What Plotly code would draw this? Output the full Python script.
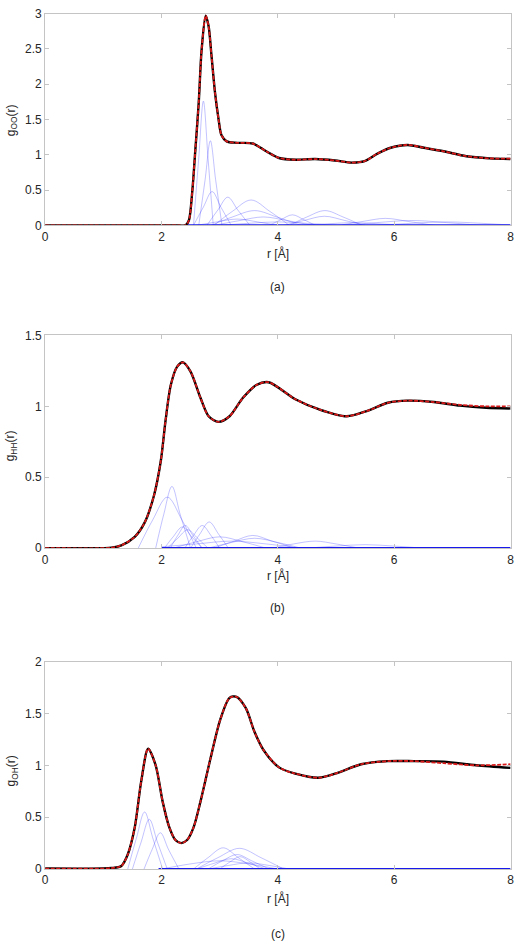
import plotly.graph_objects as go

# ---------------- data ----------------
# Panel (a): g_OO
r_oo = [0, 2.3, 2.41, 2.47, 2.53, 2.58, 2.64, 2.69, 2.76, 2.81, 2.86, 2.92, 2.98, 3.03, 3.12,
        3.3, 3.57, 3.8, 4.02, 4.3, 4.64, 4.98, 5.27, 5.49, 5.72, 5.94, 6.23, 6.51, 6.85, 7.24, 7.64, 8.0]
g_oo_exp = [0, 0, 0.0, 0.07, 0.49, 1.05, 1.74, 2.49, 2.97, 2.82, 2.40, 1.88, 1.51, 1.28, 1.19,
            1.17, 1.16, 1.05, 0.955, 0.93, 0.94, 0.92, 0.89, 0.91, 1.02, 1.10, 1.14, 1.10, 1.05, 0.98, 0.95, 0.94]
g_oo_fit = [0, 0, 0.0, 0.07, 0.49, 1.05, 1.74, 2.49, 2.97, 2.82, 2.40, 1.88, 1.51, 1.28, 1.19,
            1.17, 1.16, 1.05, 0.955, 0.93, 0.94, 0.92, 0.89, 0.91, 1.02, 1.10, 1.14, 1.10, 1.05, 0.98, 0.95, 0.945]
comp_oo_r = [
    [2.55, 2.64, 2.72, 2.80, 2.89],
    [2.64, 2.75, 2.84, 2.93, 3.04],
    [2.55, 2.72, 2.87, 3.02, 3.20],
    [2.78, 2.97, 3.14, 3.31, 3.52],
    [2.90, 3.22, 3.54, 3.86, 4.20],
    [2.85, 3.22, 3.60, 3.98, 4.40],
    [2.90, 3.35, 3.75, 4.15, 4.60],
    [2.60, 2.95, 3.30, 3.65, 4.00],
    [3.85, 4.05, 4.25, 4.45, 4.65],
    [4.20, 4.50, 4.81, 5.12, 5.45],
    [4.10, 4.45, 4.80, 5.15, 5.50],
    [5.05, 5.45, 5.85, 6.25, 6.70],
    [5.10, 5.70, 6.30, 6.90, 7.50],
    [5.70, 6.30, 6.90, 7.50, 8.00],
    [3.00, 3.50, 4.00, 4.50, 5.00],
    [4.30, 4.80, 5.30, 5.80, 6.30],
]
comp_oo_g = [
    [0, 0.95, 1.76, 0.95, 0],
    [0, 0.65, 1.20, 0.65, 0],
    [0, 0.26, 0.48, 0.26, 0],
    [0, 0.22, 0.40, 0.22, 0],
    [0, 0.20, 0.36, 0.20, 0],
    [0, 0.12, 0.21, 0.12, 0],
    [0, 0.07, 0.12, 0.07, 0],
    [0, 0.05, 0.09, 0.05, 0],
    [0, 0.08, 0.15, 0.08, 0],
    [0, 0.12, 0.21, 0.12, 0],
    [0, 0.07, 0.13, 0.07, 0],
    [0, 0.055, 0.10, 0.055, 0],
    [0, 0.04, 0.07, 0.04, 0],
    [0, 0.03, 0.05, 0.03, 0.005],
    [0, 0.03, 0.05, 0.03, 0],
    [0, 0.02, 0.04, 0.02, 0],
]
base_oo_r = [2.45, 8.0]
base_oo_g = [0, 0]

# Panel (b): g_HH
r_hh = [0, 1.0, 1.14, 1.31, 1.54, 1.71, 1.87, 1.99, 2.07, 2.16, 2.27, 2.37, 2.50, 2.67, 2.81, 2.98,
        3.17, 3.40, 3.63, 3.84, 4.30, 4.70, 5.18, 5.55, 5.89, 6.23, 6.68, 7.13, 7.58, 8.0]
g_hh_exp = [0, 0, 0.003, 0.02, 0.08, 0.18, 0.37, 0.62, 0.90, 1.15, 1.28, 1.31, 1.245, 1.06, 0.93, 0.89,
            0.93, 1.06, 1.15, 1.17, 1.05, 0.98, 0.93, 0.97, 1.025, 1.04, 1.03, 1.005, 0.99, 0.985]
g_hh_fit = [0, 0, 0.003, 0.02, 0.08, 0.18, 0.37, 0.62, 0.90, 1.15, 1.28, 1.31, 1.245, 1.06, 0.93, 0.89,
            0.93, 1.06, 1.15, 1.17, 1.05, 0.98, 0.93, 0.97, 1.025, 1.04, 1.03, 1.01, 1.0, 1.0]
comp_hh_r = [
    [1.90, 2.04, 2.18, 2.32, 2.50],
    [1.60, 1.85, 2.10, 2.35, 2.60],
    [2.15, 2.28, 2.41, 2.54, 2.70],
    [2.05, 2.20, 2.36, 2.52, 2.70],
    [2.10, 2.28, 2.45, 2.62, 2.80],
    [2.50, 2.66, 2.82, 2.98, 3.15],
    [2.40, 2.55, 2.70, 2.85, 3.00],
    [2.20, 2.60, 3.00, 3.40, 3.80],
    [2.90, 3.25, 3.57, 3.90, 4.30],
    [2.80, 3.20, 3.60, 4.00, 4.40],
    [3.90, 4.27, 4.64, 5.00, 5.40],
    [2.00, 2.60, 3.20, 3.80, 4.40],
    [4.50, 5.00, 5.50, 6.00, 6.50],
]
comp_hh_g = [
    [0, 0.24, 0.435, 0.24, 0],
    [0, 0.20, 0.36, 0.20, 0],
    [0, 0.09, 0.16, 0.09, 0],
    [0, 0.08, 0.15, 0.08, 0],
    [0, 0.07, 0.13, 0.07, 0],
    [0, 0.10, 0.185, 0.10, 0],
    [0, 0.09, 0.16, 0.09, 0],
    [0, 0.045, 0.08, 0.045, 0],
    [0, 0.05, 0.09, 0.05, 0],
    [0, 0.04, 0.07, 0.04, 0],
    [0, 0.03, 0.05, 0.03, 0],
    [0.01, 0.03, 0.05, 0.03, 0],
    [0, 0.015, 0.025, 0.015, 0],
]
base_hh_r = [2.0, 8.0]
base_hh_g = [0, 0]

# Panel (c): g_OH
r_oh = [0, 1.0, 1.14, 1.31, 1.42, 1.54, 1.65, 1.77, 1.90, 2.02, 2.13, 2.24, 2.34, 2.44, 2.55, 2.67, 2.84,
        3.01, 3.17, 3.29, 3.45, 3.60, 3.75, 4.02, 4.30, 4.70, 5.04, 5.43, 5.89, 6.34, 6.85, 7.41, 8.0]
g_oh_exp = [0.005, 0.005, 0.01, 0.03, 0.14, 0.40, 0.84, 1.16, 1.0, 0.65, 0.41, 0.28, 0.25, 0.28, 0.40, 0.65, 1.06,
            1.44, 1.65, 1.66, 1.55, 1.32, 1.15, 0.98, 0.92, 0.88, 0.93, 1.01, 1.04, 1.04, 1.035, 1.0, 0.975]
g_oh_fit = [0.005, 0.005, 0.01, 0.03, 0.14, 0.40, 0.84, 1.16, 1.0, 0.65, 0.41, 0.28, 0.25, 0.28, 0.40, 0.65, 1.06,
            1.44, 1.65, 1.66, 1.55, 1.32, 1.15, 0.98, 0.92, 0.88, 0.93, 1.01, 1.04, 1.04, 1.02, 1.0, 1.01]
comp_oh_r = [
    [1.42, 1.57, 1.71, 1.85, 2.02],
    [1.50, 1.65, 1.79, 1.93, 2.10],
    [1.70, 1.84, 1.98, 2.12, 2.30],
    [2.55, 2.80, 3.06, 3.32, 3.60],
    [2.60, 2.97, 3.34, 3.71, 4.10],
    [2.80, 3.05, 3.30, 3.55, 3.85],
    [2.60, 2.90, 3.20, 3.50, 3.80],
    [2.00, 2.50, 3.00, 3.50, 4.00],
    [2.80, 3.15, 3.50, 3.85, 4.20],
    [3.00, 3.18, 3.35, 3.52, 3.70],
]
comp_oh_g = [
    [0, 0.30, 0.55, 0.30, 0],
    [0, 0.26, 0.48, 0.26, 0],
    [0, 0.19, 0.35, 0.19, 0],
    [0, 0.11, 0.205, 0.11, 0],
    [0, 0.11, 0.20, 0.11, 0],
    [0, 0.08, 0.14, 0.08, 0],
    [0, 0.055, 0.10, 0.055, 0],
    [0, 0.05, 0.08, 0.05, 0],
    [0, 0.035, 0.06, 0.035, 0],
    [0, 0.07, 0.12, 0.07, 0],
]
base_oh_r = [1.95, 8.0]
base_oh_g = [0, 0]

x_ticks = [0, 2, 4, 6, 8]
y_ticks_oo = [0, 0.5, 1, 1.5, 2, 2.5, 3]
y_ticks_hh = [0, 0.5, 1, 1.5]
y_ticks_oh = [0, 0.5, 1, 1.5, 2]
y_labels = ["g<sub>OO</sub>(r)", "g<sub>HH</sub>(r)", "g<sub>OH</sub>(r)"]
captions = ["(a)", "(b)", "(c)"]
x_title = "r [Å]"

# ---------------- figure ----------------
W, H = 520, 949
FONT = "Liberation Sans, Arial, sans-serif"
fig = go.Figure()

panels = [
    (r_oo, g_oo_exp, g_oo_fit, comp_oo_r, comp_oo_g, base_oo_r, base_oo_g, y_ticks_oo, 3.0),
    (r_hh, g_hh_exp, g_hh_fit, comp_hh_r, comp_hh_g, base_hh_r, base_hh_g, y_ticks_hh, 1.5),
    (r_oh, g_oh_exp, g_oh_fit, comp_oh_r, comp_oh_g, base_oh_r, base_oh_g, y_ticks_oh, 2.0),
]
# pixel boxes (top, bottom) of each axes
boxes = [(6.7, 221.7), (333.3, 549.3), (664.3, 875.0)]
xl, xr = 42.7, 514.5
xt_pos = [250, 577, 905]
cap_pos = [284, 610, 941]
ylab_pos = [115, 445, 775]

for i, (r, ge, gf, cr, cg, br, bg, yt, ymax) in enumerate(panels):
    xa = "x" if i == 0 else f"x{i+1}"
    ya = "y" if i == 0 else f"y{i+1}"
    for rr, gg in zip(cr, cg):
        fig.add_trace(go.Scatter(x=rr, y=gg, mode="lines", xaxis=xa, yaxis=ya,
                                 line=dict(color="rgba(40,40,255,0.28)", width=1, shape="spline", smoothing=1.0),
                                 hoverinfo="skip", showlegend=False))
    fig.add_trace(go.Scatter(x=br, y=bg, mode="lines", xaxis=xa, yaxis=ya,
                             line=dict(color="rgb(25,25,235)", width=2.2),
                             hoverinfo="skip", showlegend=False))
    fig.add_trace(go.Scatter(x=r, y=ge, mode="lines", xaxis=xa, yaxis=ya,
                             line=dict(color="black", width=2.4, shape="spline", smoothing=0.8),
                             showlegend=False))
    fig.add_trace(go.Scatter(x=r, y=gf, mode="lines", xaxis=xa, yaxis=ya,
                             line=dict(color="rgb(215,25,25)", width=1.8, dash="4px,1.5px",
                                       shape="spline", smoothing=0.8),
                             showlegend=False))

    top, bot = boxes[i]
    axis_common = dict(showline=True, linecolor="#c4c4c4", linewidth=1, mirror="ticks",
                       ticks="inside", ticklen=4, tickcolor="#c4c4c4", showgrid=False, zeroline=False,
                       tickfont=dict(family=FONT, size=12, color="#262626"))
    fig.update_layout(**{
        ("xaxis" if i == 0 else f"xaxis{i+1}"): dict(
            domain=[xl / W, xr / W], range=[0, 8], anchor=ya, tickvals=x_ticks,
            ticktext=[str(v) for v in x_ticks], **axis_common),
        ("yaxis" if i == 0 else f"yaxis{i+1}"): dict(
            domain=[1 - bot / H, 1 - top / H], range=[0, ymax], anchor=xa, tickvals=yt,
            ticktext=[f"{v:g}" for v in yt], **axis_common),
    })
    fig.add_annotation(text=y_labels[i], xref="paper", yref="paper", x=9 / W, y=1 - ylab_pos[i] / H,
                       textangle=-90, showarrow=False, xanchor="center", yanchor="middle",
                       font=dict(family=FONT, size=12, color="#262626"))
    fig.add_annotation(text=x_title, xref="paper", yref="paper", x=(xl + xr) / 2 / W, y=1 - xt_pos[i] / H,
                       showarrow=False, xanchor="center", yanchor="middle",
                       font=dict(family=FONT, size=12, color="#262626"))
    fig.add_annotation(text=captions[i], xref="paper", yref="paper", x=(xl + xr) / 2 / W, y=1 - cap_pos[i] / H,
                       showarrow=False, xanchor="center", yanchor="middle",
                       font=dict(family=FONT, size=12, color="#262626"))

fig.update_layout(width=W, height=H, margin=dict(l=0, r=0, t=0, b=0),
                  paper_bgcolor="white", plot_bgcolor="white", showlegend=False)
fig.write_html("out.html")
